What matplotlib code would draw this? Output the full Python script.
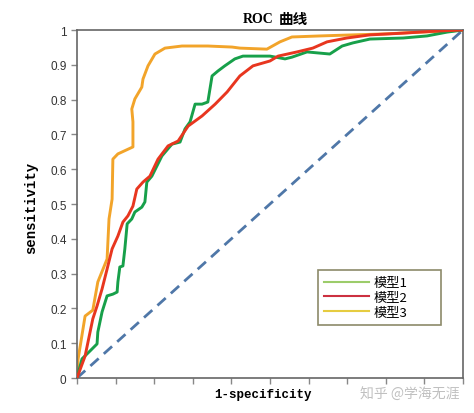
import matplotlib.pyplot as plt
from matplotlib.lines import Line2D

plt.rcParams['font.family'] = ['Noto Sans CJK SC', 'DejaVu Sans']

# model 1 (green)
m1_fpr = [0, 0.013, 0.034, 0.052, 0.054, 0.065, 0.078, 0.093, 0.104, 0.106, 0.111, 0.119,
          0.124, 0.130, 0.142, 0.150, 0.168, 0.176, 0.181, 0.194, 0.220, 0.246, 0.267,
          0.280, 0.293, 0.306, 0.324, 0.339, 0.350, 0.365, 0.383, 0.409, 0.430, 0.500,
          0.539, 0.557, 0.596, 0.655, 0.687, 0.715, 0.759, 0.845, 0.907, 0.959, 1.0]
m1_tpr = [0, 0.055, 0.078, 0.098, 0.132, 0.190, 0.236, 0.241, 0.247, 0.276, 0.319, 0.322,
          0.371, 0.443, 0.457, 0.477, 0.491, 0.506, 0.563, 0.580, 0.638, 0.672, 0.678,
          0.716, 0.736, 0.787, 0.787, 0.793, 0.868, 0.882, 0.897, 0.917, 0.925, 0.925,
          0.917, 0.922, 0.937, 0.931, 0.954, 0.963, 0.974, 0.977, 0.983, 0.994, 1.0]

# model 2 (red)
m2_fpr = [0, 0.021, 0.041, 0.052, 0.065, 0.078, 0.091, 0.106, 0.119, 0.132, 0.145, 0.155,
          0.171, 0.189, 0.210, 0.236, 0.262, 0.288, 0.324, 0.358, 0.389, 0.422, 0.456,
          0.500, 0.521, 0.570, 0.611, 0.648, 0.699, 0.759, 0.845, 0.933, 1.0]
m2_tpr = [0, 0.063, 0.170, 0.207, 0.256, 0.313, 0.371, 0.408, 0.448, 0.466, 0.494, 0.543,
          0.563, 0.580, 0.629, 0.667, 0.681, 0.724, 0.753, 0.787, 0.822, 0.868, 0.897,
          0.911, 0.925, 0.937, 0.948, 0.966, 0.977, 0.986, 0.991, 0.997, 1.0]

# model 3 (orange)
m3_fpr = [0, 0.003, 0.021, 0.041, 0.054, 0.078, 0.083, 0.091, 0.093, 0.106, 0.145, 0.145,
          0.142, 0.150, 0.168, 0.171, 0.184, 0.202, 0.228, 0.272, 0.339, 0.402, 0.422,
          0.492, 0.526, 0.557, 0.630, 0.715, 0.803, 0.889, 0.966, 1.0]
m3_tpr = [0, 0.055, 0.178, 0.195, 0.276, 0.342, 0.457, 0.514, 0.629, 0.644, 0.664, 0.736,
          0.773, 0.802, 0.836, 0.859, 0.897, 0.931, 0.948, 0.954, 0.954, 0.951, 0.948,
          0.945, 0.966, 0.980, 0.983, 0.986, 0.989, 0.994, 0.997, 1.0]

labels = ['模型1', '模型2', '模型3']
y_ticks = [0, 0.1, 0.2, 0.3, 0.4, 0.5, 0.6, 0.7, 0.8, 0.9, 1]
y_ticklabels = ['0', '0.1', '0.2', '0.3', '0.4', '0.5', '0.6', '0.7', '0.8', '0.9', '1']
x_ticks = [0, 0.1, 0.2, 0.3, 0.4, 0.5, 0.6, 0.7, 0.8, 0.9, 1]

fig = plt.figure(figsize=(4.74, 4.14), dpi=100)
ax = fig.add_axes([0.1624, 0.0845, 0.8143, 0.8406])

ax.plot([0, 1], [0, 1], color='#4f77a8', lw=2.0, dashes=(4, 2.5), zorder=1)
ax.plot(m1_fpr, m1_tpr, color='#17a04a', lw=2.1, zorder=3)
ax.plot(m2_fpr, m2_tpr, color='#e8361f', lw=2.1, zorder=4)
ax.plot(m3_fpr, m3_tpr, color='#f2a42a', lw=2.1, zorder=2)

ax.set_xlim(0, 1)
ax.set_ylim(0, 1)
ax.set_xticks(x_ticks)
ax.set_xticklabels([])
ax.set_yticks(y_ticks)
ax.set_yticklabels(y_ticklabels, fontsize=8.5, color='#333333', family=['Liberation Sans'])
ax.tick_params(direction='out', length=4, width=1, color='#888888')
for s in ax.spines.values():
    s.set_color('#666666')
    s.set_linewidth(1.2)

fig.text(0.066, 0.497, 'sensitivity', family=['Liberation Mono'], fontweight='bold',
         fontsize=10, rotation=90, ha='center', va='center')
fig.text(0.555, 0.046, '1-specificity', family=['Liberation Mono'], fontweight='bold',
         fontsize=9, ha='center', va='center')

fig.text(0.513, 0.953, 'ROC', family=['Liberation Serif'], fontweight='bold', fontsize=10,
         ha='left', va='center')
fig.text(0.589, 0.953, '曲线', family=['Noto Sans CJK SC'], fontweight='bold', fontsize=10.5,
         ha='left', va='center')

handles = [Line2D([], [], color='#9ccc6a', lw=1.5),
           Line2D([], [], color='#cc3040', lw=1.5),
           Line2D([], [], color='#e6cc40', lw=1.5)]
leg = ax.legend(handles, labels, loc='upper left', bbox_to_anchor=(0.624, 0.309, 0.319, 0.0),
                mode='expand', fontsize=9.5, handlelength=3.4, handletextpad=0.4,
                labelspacing=0.12, borderpad=0.45, fancybox=False, framealpha=1,
                borderaxespad=0)
leg.get_frame().set_edgecolor('#8c8a6a')
leg.get_frame().set_linewidth(1.2)

fig.text(0.865, 0.046, '知乎 @学海无涯', color='#c0c0c0', fontsize=10, ha='center', va='center')

fig.savefig('out.png', dpi=100)
